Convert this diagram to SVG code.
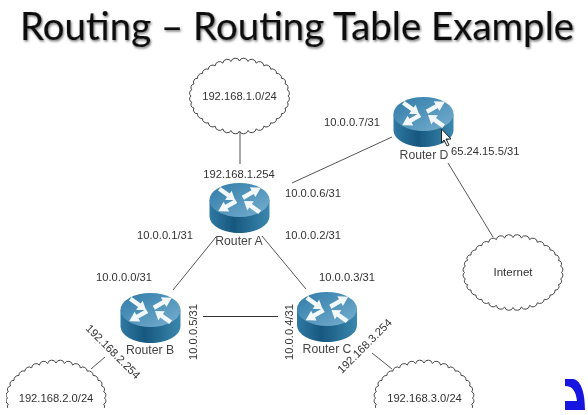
<svg xmlns="http://www.w3.org/2000/svg" width="588" height="415" viewBox="0 0 588 415">
<style>
text{font-family:"Liberation Sans",Arial,sans-serif;fill:#333}
.l{font-size:11.2px}
.r{font-size:12.2px;fill:#444}
.t{font-family:Lato,"Liberation Sans",sans-serif;font-size:38px;fill:#111;stroke:#111;stroke-width:.2;filter:url(#sb)}
.c{fill:#fff;stroke:#333;stroke-width:.9}
.k{stroke:#555;stroke-width:1;fill:none}
</style>
<defs>
<filter id="soft" x="0" y="0" width="1" height="1"><feGaussianBlur stdDeviation=".35"/></filter>
<filter id="sb" x="-2%" y="-20%" width="104%" height="140%"><feDropShadow dx="1" dy="1.500" stdDeviation="1" flood-color="#777"/></filter>
<linearGradient id="top" x1="0" y1="0" x2="1" y2="1"><stop offset="0" stop-color="#2e7aa8"/><stop offset="1" stop-color="#78b0cf"/></linearGradient>
<linearGradient id="side" x1="0" y1="0" x2="1" y2="0"><stop offset="0" stop-color="#3079a3"/><stop offset=".4" stop-color="#17587f"/><stop offset="1" stop-color="#3b87ae"/></linearGradient>
<g id="router">
<path d="M-30-8V8C-30 18-16 25 0 25S30 18 30 8V-8Z" fill="url(#side)"/>
<ellipse cx="0" cy="-8" rx="30" ry="17" fill="url(#top)"/>
<g fill="#f2f7fa" transform="translate(0 -8) scale(1.12) translate(0 8)">
<path d="M-19.200-16.400-11.100-10.600-12.800-8.100-4-8-7-16.300-8.700-13.800-16.800-19.600Z"/>
<path d="M4-8.300 12.700-13.300 14.200-10.600 19-19 9.200-19.300 10.700-16.700 2-11.700Z"/>
<path d="M-4-8.700-12.700-3.700-14.200-6.400-19 2-9.200 2.300-10.700-.3-2-5.300Z"/>
<path d="M19.200 1.400 11.100-4.400 12.800-6.900 4-7 7 1.300 8.700-1.200 16.800 4.600Z"/>
</g>
</g>
<g id="cloud">
<path class="c" d="M48.500 0A3.600 3.600 0 0 1 47.700 6.200A3.600 3.600 0 0 1 45.500 12.100A3.600 3.600 0 0 1 42 17.600A4.400 4.400 0 0 1 37.100 22.500A4.400 4.400 0 0 1 31.200 26.800A4.400 4.400 0 0 1 24.300 30.200A4.400 4.400 0 0 1 16.600 32.900A4.400 4.400 0 0 1 8.400 34.500A4.400 4.400 0 0 1 0 35A4.400 4.400 0 0 1-8.400 34.500A4.400 4.400 0 0 1-16.600 32.900A4.400 4.400 0 0 1-24.300 30.200A4.400 4.400 0 0 1-31.200 26.800A4.400 4.400 0 0 1-37.100 22.500A4.400 4.400 0 0 1-42 17.600A3.600 3.600 0 0 1-45.500 12.100A3.600 3.600 0 0 1-47.700 6.200A3.600 3.600 0 0 1-48.500 0A3.600 3.600 0 0 1-47.700-6.200A3.600 3.600 0 0 1-45.500-12.100A3.600 3.600 0 0 1-42-17.600A4.400 4.400 0 0 1-37.100-22.500A4.400 4.400 0 0 1-31.200-26.800A4.400 4.400 0 0 1-24.300-30.200A4.400 4.400 0 0 1-16.600-32.900A4.400 4.400 0 0 1-8.400-34.500A4.400 4.400 0 0 1 0-35A4.400 4.400 0 0 1 8.400-34.500A4.400 4.400 0 0 1 16.600-32.900A4.400 4.400 0 0 1 24.300-30.200A4.400 4.400 0 0 1 31.200-26.800A4.400 4.400 0 0 1 37.100-22.500A4.400 4.400 0 0 1 42-17.600A3.600 3.600 0 0 1 45.500-12.100A3.600 3.600 0 0 1 47.700-6.200A3.600 3.600 0 0 1 48.500 0Z"/>
</g>
<clipPath id="cut"><rect x="0" y="0" width="588" height="408"/></clipPath>
</defs>
<rect width="588" height="415" fill="#fff"/>
<g filter="url(#soft)">
<g id="title"><text class="t" x="20" y="40" textLength="554" lengthAdjust="spacingAndGlyphs">Routing – Routing Table Example</text></g>
<g id="connectors">
<path class="k" d="M240 132V164M392 137 292 183M216 237 173 290M262 236 306 289M91 369 105 357M372 353 392 369M448 163 493 237"/>
<path class="k" style="stroke:#333" d="M203 316.500H278"/>
</g>
<g id="cloud-1"><use href="#cloud" x="239.500" y="96"/><text class="l" x="239.500" y="100" text-anchor="middle">192.168.1.0/24</text></g>
<g id="cloud-internet"><use href="#cloud" x="513" y="272.500"/><text x="513" y="276" text-anchor="middle" style="font-size:11.5px">Internet</text></g>
<g id="cloud-2" clip-path="url(#cut)"><use href="#cloud" x="56" y="398"/><text class="l" x="56" y="402" text-anchor="middle">192.168.2.0/24</text></g>
<g id="cloud-3" clip-path="url(#cut)"><use href="#cloud" x="424" y="398"/><text class="l" x="424.500" y="402" text-anchor="middle">192.168.3.0/24</text></g>
<g id="router-a"><use href="#router" x="239.500" y="208"/><text class="r" x="239" y="245" text-anchor="middle">Router A</text></g>
<g id="router-b"><use href="#router" x="150.500" y="318"/><text class="r" x="150" y="354" text-anchor="middle">Router B</text></g>
<g id="router-c"><use href="#router" x="327" y="317"/><text class="r" x="327" y="353" text-anchor="middle">Router C</text></g>
<g id="router-d"><use href="#router" x="423.500" y="122"/><text class="r" x="424" y="159" text-anchor="middle">Router D</text></g>
<g id="labels">
<text class="l" x="239" y="178" text-anchor="middle">192.168.1.254</text>
<text class="l" x="324" y="126">10.0.0.7/31</text>
<text class="l" x="285" y="197">10.0.0.6/31</text>
<text class="l" x="285" y="239">10.0.0.2/31</text>
<text class="l" x="137" y="239">10.0.0.1/31</text>
<text class="l" x="96" y="281">10.0.0.0/31</text>
<text class="l" x="319" y="281">10.0.0.3/31</text>
<text class="l" x="451" y="155">65.24.15.5/31</text>
<text class="l" transform="translate(197 360) rotate(-90)">10.0.0.5/31</text>
<text class="l" transform="translate(293 360) rotate(-90)">10.0.0.4/31</text>
<text class="l" transform="translate(85 329) rotate(45)">192.168.2.254</text>
<text class="l" transform="translate(342 374) rotate(-45)">192.168.3.254</text>
</g>
<path d="M441.500 129V143L444 140 447 146 449 145 446 139H451Z" fill="#fff" stroke="#222" stroke-width="1"/>
<path d="M565 379H573C580 380 585 390 585 410H565V401H577C576 392 573 386 565 386Z" fill="#1414e0"/>
</g>
</svg>
